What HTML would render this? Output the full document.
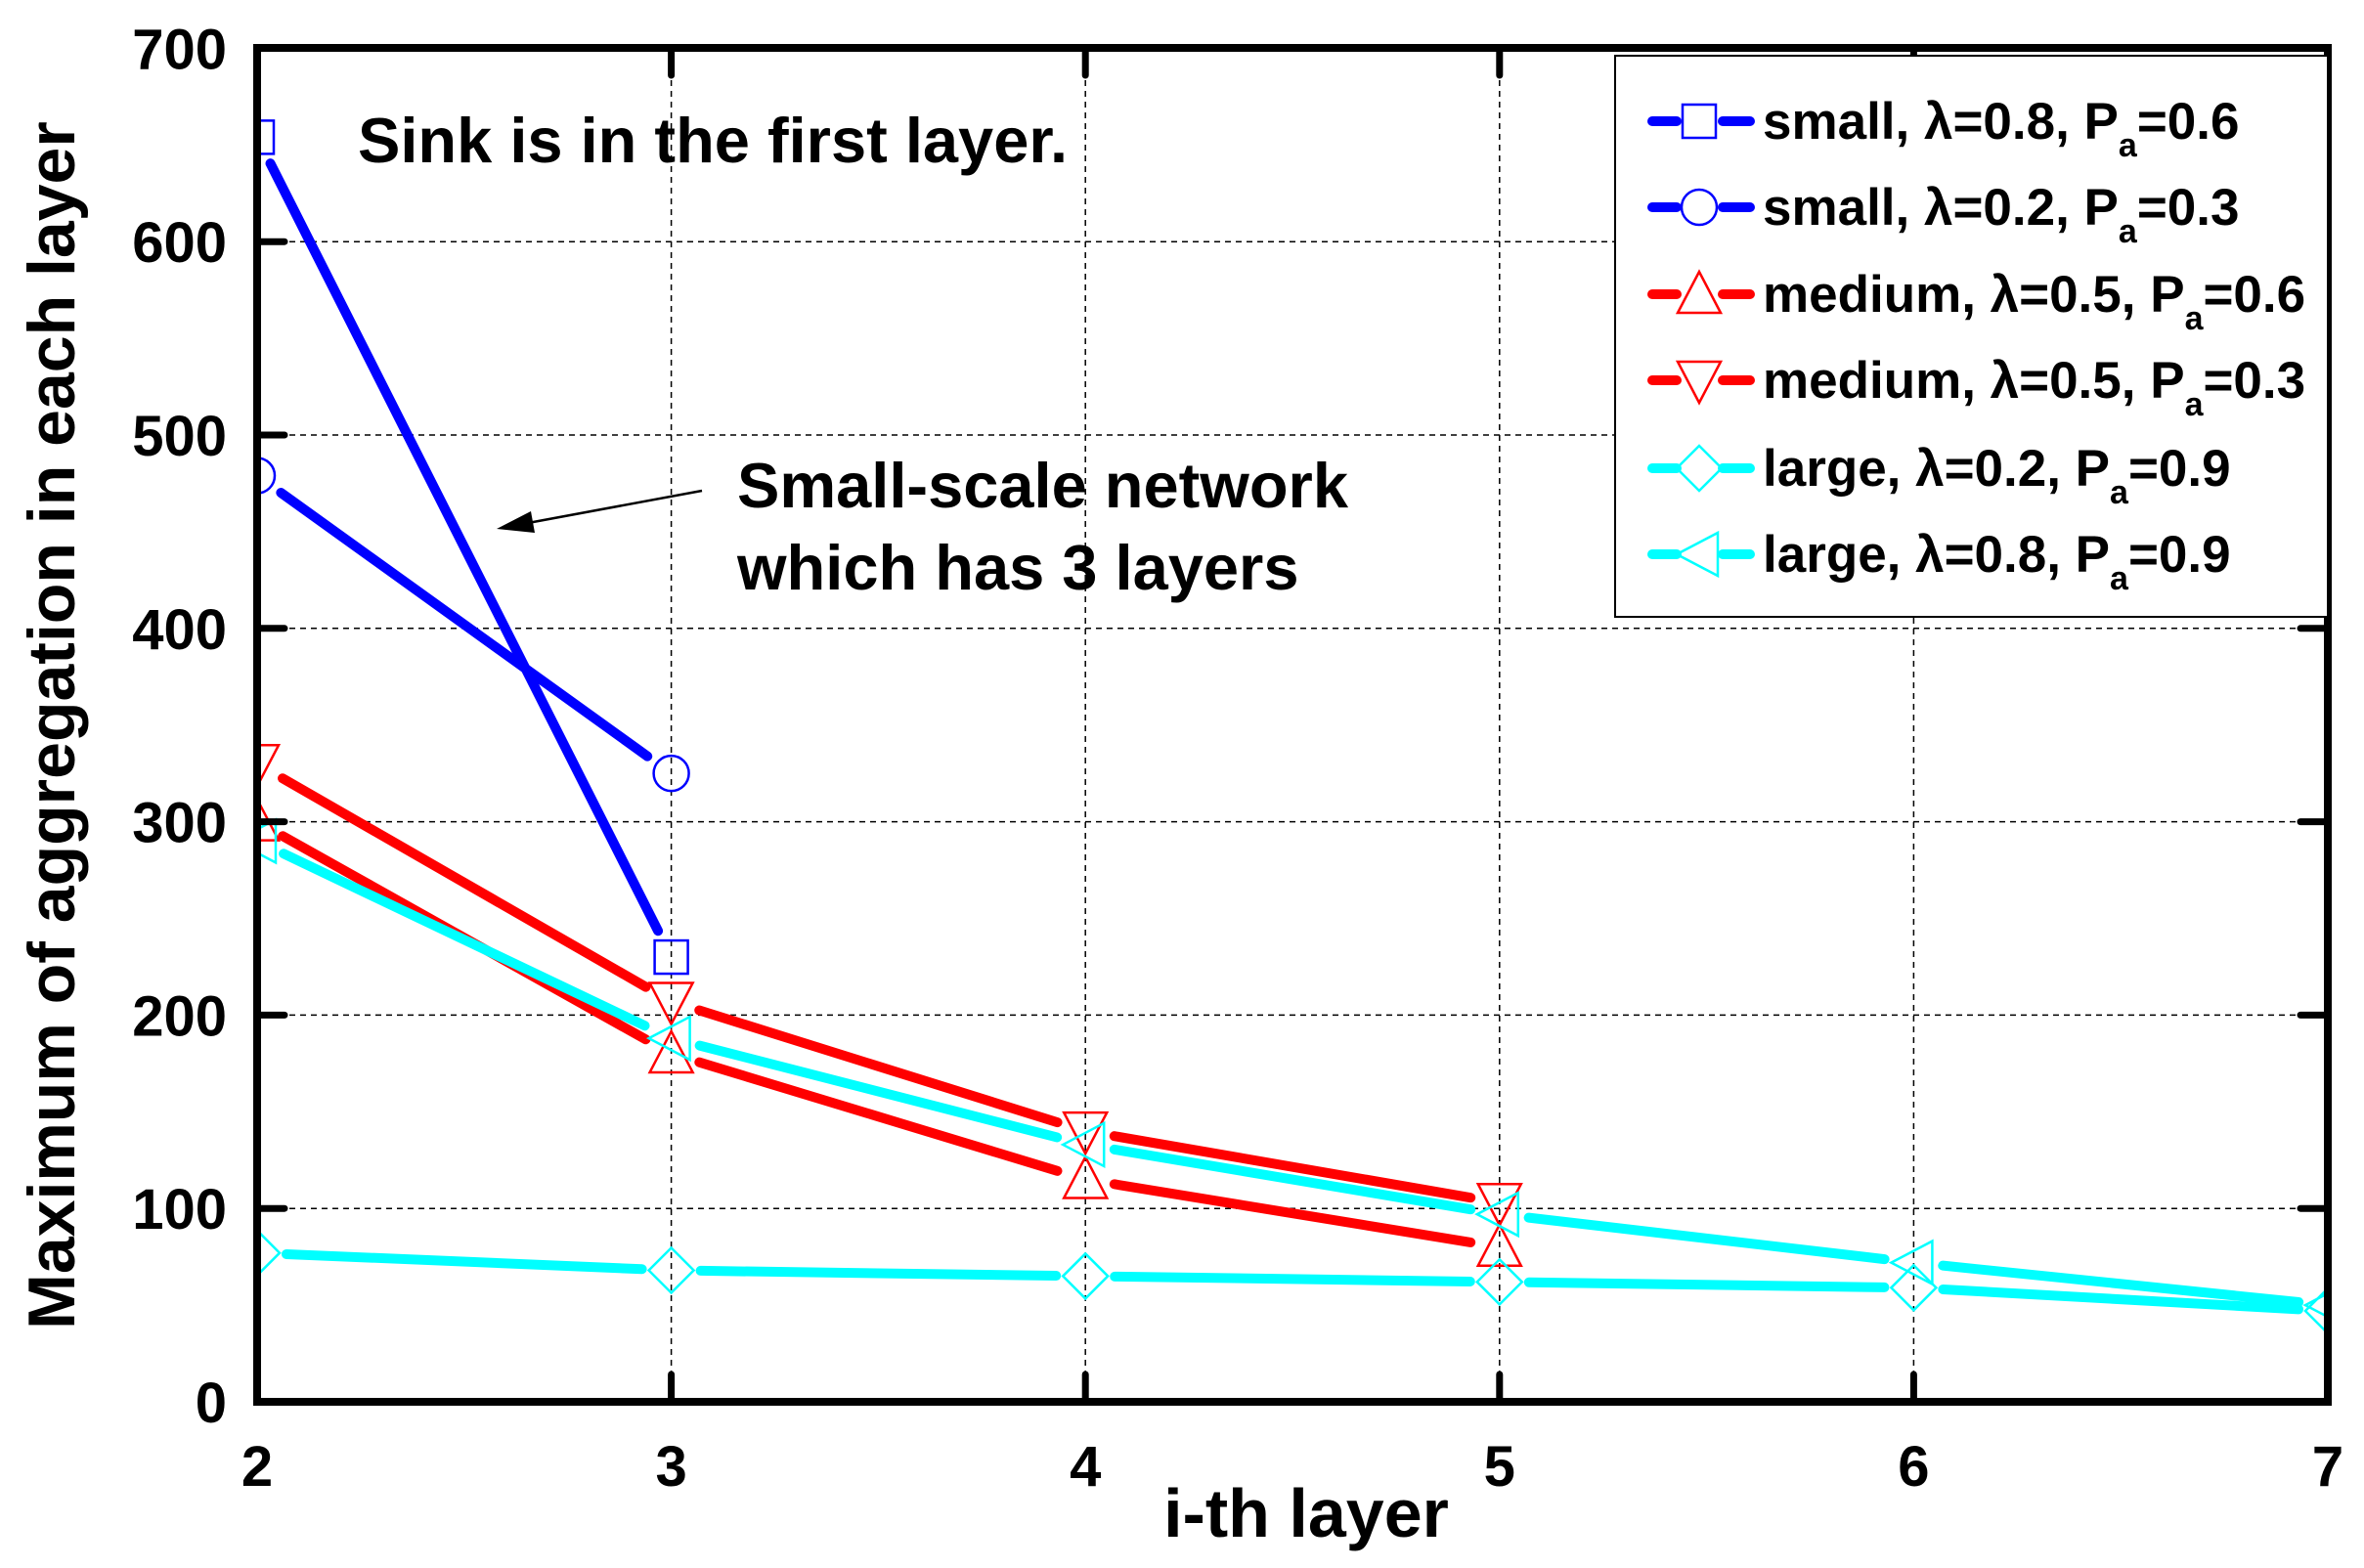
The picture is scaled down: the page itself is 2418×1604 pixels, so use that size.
<!DOCTYPE html>
<html><head><meta charset="utf-8"><style>
html,body{margin:0;padding:0;background:#fff}
svg text{font-family:"Liberation Sans Narrow","Liberation Sans",sans-serif;font-weight:bold}
</style></head><body>
<svg id="s" width="2418" height="1599" viewBox="0 0 2418 1599" xmlns="http://www.w3.org/2000/svg">
<g id="grid" stroke="#000" stroke-width="1.5" stroke-dasharray="6,5" fill="none"></g>
<g id="series"></g>
<g id="axes"></g>
<text x="366" y="166" font-size="65" style="font-family:'Liberation Sans',sans-serif">Sink is in the first layer.</text>
<text x="754" y="519" font-size="65" style="font-family:'Liberation Sans',sans-serif">Small-scale network</text>
<text x="754" y="603" font-size="65" style="font-family:'Liberation Sans',sans-serif">which has 3 layers</text>
<line x1="718" y1="502" x2="540" y2="535" stroke="#000" stroke-width="2.5"/>
<polygon points="508,541 543,523 547,545" fill="#000"/>
<text x="1336" y="1572" font-size="70" text-anchor="middle" style="font-family:'Liberation Sans',sans-serif">i-th layer</text>
<text transform="translate(76,742) rotate(-90)" font-size="68" text-anchor="middle" style="font-family:'Liberation Sans',sans-serif">Maximum of aggregation in each layer</text>
<rect x="1652" y="57" width="729" height="574" fill="#fff" stroke="#000" stroke-width="2"/>
<g id="legend"></g>
</svg>
<script>
var NS="http://www.w3.org/2000/svg";
function X(v){return 263+(v-2)*423.6}
function Y(v){return 1434-v*1.978}
function el(p,t,a){var e=document.createElementNS(NS,t);for(var k in a)e.setAttribute(k,a[k]);p.appendChild(e);return e}
var g=document.getElementById('grid');
for(var i=3;i<=6;i++)el(g,'line',{x1:X(i),y1:49,x2:X(i),y2:1434});
for(var j=1;j<=6;j++)el(g,'line',{x1:263,y1:Y(j*100),x2:2381,y2:Y(j*100)});
var ax=document.getElementById('axes');
el(ax,'rect',{x:263,y:49,width:2118,height:1385,fill:'none',stroke:'#000','stroke-width':8});
var S=document.getElementById('s');
for(var i=2;i<=7;i++){
 el(ax,'line',{x1:X(i),y1:1434,x2:X(i),y2:1406,stroke:'#000','stroke-width':7,'stroke-linecap':'round'});
 el(ax,'line',{x1:X(i),y1:49,x2:X(i),y2:77,stroke:'#000','stroke-width':7,'stroke-linecap':'round'});
 var t=el(S,'text',{x:X(i),y:1520,'font-size':58,'text-anchor':'middle'});t.textContent=i;
}
for(var j=0;j<=7;j++){
 var y=Y(j*100);
 el(ax,'line',{x1:263,y1:y,x2:291,y2:y,stroke:'#000','stroke-width':7,'stroke-linecap':'round'});
 el(ax,'line',{x1:2381,y1:y,x2:2353,y2:y,stroke:'#000','stroke-width':7,'stroke-linecap':'round'});
 var t=el(S,'text',{x:232,y:y+21,'font-size':58,'text-anchor':'end'});t.textContent=j*100;
}
function marker(p,type,x,y,c){
 var a={fill:'none',stroke:c,'stroke-width':2.5};
 if(type=='sq'){a.x=x-17;a.y=y-17;a.width=34;a.height=34;el(p,'rect',a)}
 else if(type=='ci'){a.cx=x;a.cy=y;a.r=18;el(p,'circle',a)}
 else if(type=='tu'){a.points=(x-22)+','+(y+19)+' '+(x+22)+','+(y+19)+' '+x+','+(y-23);el(p,'polygon',a)}
 else if(type=='td'){a.points=(x-22)+','+(y-19)+' '+(x+22)+','+(y-19)+' '+x+','+(y+23);el(p,'polygon',a)}
 else if(type=='di'){a.points=x+','+(y-23)+' '+(x+23)+','+y+' '+x+','+(y+23)+' '+(x-23)+','+y;el(p,'polygon',a)}
 else if(type=='tl'){a.points=(x-23)+','+y+' '+(x+19)+','+(y-22)+' '+(x+19)+','+(y+22);el(p,'polygon',a)}
}
var data=[
 ['#0000ff','sq',[654,230]],
 ['#0000ff','ci',[479,325]],
 ['#ff0000','tu',[300,180,115,80]],
 ['#ff0000','td',[330,207,140,103]],
 ['#00ffff','di',[77,68,65,62,59,47]],
 ['#00ffff','tl',[290,188,133,97,72,50]]
];
var sg=document.getElementById('series');
var clip=el(S,'clipPath',{id:'pc'});el(clip,'rect',{x:263,y:49,width:2118,height:1385});
sg.setAttribute('clip-path','url(#pc)');
data.forEach(function(d){
 var pts=d[2].map(function(v,i){return [X(i+2),Y(v)]});
 for(var i=0;i<pts.length-1;i++){
  var a=pts[i],b=pts[i+1],dx=b[0]-a[0],dy=b[1]-a[1],L=Math.sqrt(dx*dx+dy*dy),g=30;
  el(sg,'line',{x1:a[0]+dx/L*g,y1:a[1]+dy/L*g,x2:b[0]-dx/L*g,y2:b[1]-dy/L*g,stroke:d[0],'stroke-width':10,'stroke-linecap':'round'});
 }
 pts.forEach(function(p){marker(sg,d[1],p[0],p[1],d[0])});
});
var lg=document.getElementById('legend');
var labels=[['small','0.8','0.6'],['small','0.2','0.3'],['medium','0.5','0.6'],['medium','0.5','0.3'],['large','0.2','0.9'],['large','0.8','0.9']];
var ly=[124,212,301,389,479,567];
data.forEach(function(d,i){
 var y=ly[i];
 el(lg,'line',{x1:1690,y1:y,x2:1715,y2:y,stroke:d[0],'stroke-width':10,'stroke-linecap':'round'});
 el(lg,'line',{x1:1762,y1:y,x2:1790,y2:y,stroke:d[0],'stroke-width':10,'stroke-linecap':'round'});
 marker(lg,d[1],1738,y,d[0]);
 var t=el(lg,'text',{x:1803,y:y+18,'font-size':53});
 t.innerHTML=labels[i][0]+', \u03bb='+labels[i][1]+', P<tspan font-size="34" dy="18">a</tspan><tspan dy="-18">='+labels[i][2]+'</tspan>';
});
</script>
</body></html>
